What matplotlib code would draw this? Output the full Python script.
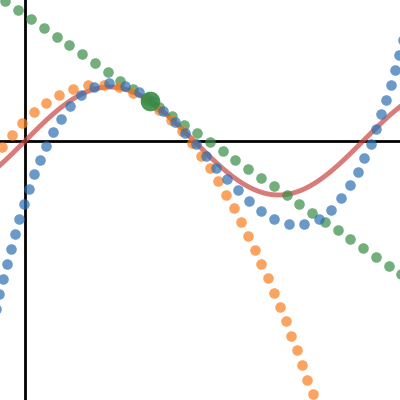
import numpy as np
import matplotlib
matplotlib.use('Agg')
import matplotlib.pyplot as plt

PX = 53.8  # pixels per unit

def to_data(pts):
    p = np.array(pts, dtype=float)
    return (p[:, 0] - 25) / PX, (141 - p[:, 1]) / 54.0

# points (pixel coords)
green_pts = [(8, 3), (150, 101), (395, 270)]
orange_pts = [(3, 146), (50, 100), (100, 83), (150, 101), (230, 205), (315, 400)]
blue_pts = [(0, 295), (45, 141), (110, 87), (150, 101), (300, 223), (390, 88)]
a_x, a_y = 2.32, 0.74

def dots(pts, deg, step=15.5):
    x, y = to_data(pts)
    c = np.polyfit(x, y, deg)
    xs = np.linspace(-0.6, 7.2, 4000)
    ys = np.polyval(c, xs)
    d = np.concatenate([[0], np.cumsum(np.hypot(np.diff(xs), np.diff(ys)) * PX)])
    t = np.arange(0, d[-1], step)
    return np.interp(t, d, xs), np.interp(t, d, ys)

x_curve = np.linspace(-0.6, 7.2, 400)

fig = plt.figure(figsize=(4, 4), dpi=100)
ax = fig.add_axes([0, 0, 1, 1])
ax.set_xlim(-25 / PX, 375 / PX)
ax.set_ylim(-259 / 54.0, 141 / 54.0)
ax.axis('off')
ax.axhline(0, color='black', lw=2, zorder=1)
ax.axvline(0, color='black', lw=2, zorder=1)

ax.plot(x_curve, np.sin(x_curve), color='#c74440', lw=3.5, alpha=0.7, zorder=2)
for pts, deg, col in [(green_pts, 1, '#388c46'), (orange_pts, 2, '#fa7e1e'),
                      (blue_pts, 3, '#2d70b3')]:
    gx, gy = dots(pts, deg)
    ax.scatter(gx, gy, s=58, color=col, alpha=0.7, lw=0, zorder=3)
ax.scatter([a_x], [a_y], s=200, color='#388c46', alpha=0.9, lw=0, zorder=4)

fig.savefig('out.png')
